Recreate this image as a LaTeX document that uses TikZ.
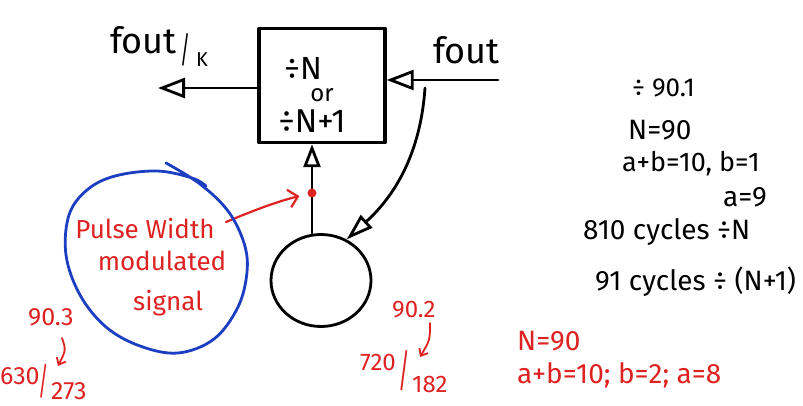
\documentclass[tikz,border=0pt]{standalone}
\usepackage{fontspec}
\usepackage{graphicx}
\setmainfont{Fira Sans}
\usetikzlibrary{arrows.meta,shapes.geometric}
\definecolor{penred}{RGB}{222,34,34}
\definecolor{penblue}{RGB}{28,62,192}
\begin{document}
\begin{tikzpicture}[x=1pt,y=-1pt,
  ink/.style={draw=black, line width=2.8pt, line cap=round, line join=round},
  redink/.style={draw=penred, line width=2.2pt, line cap=round, line join=round},
  blueink/.style={draw=penblue, line width=2.8pt, line cap=round, line join=round},
  txt/.style={inner sep=0pt, font=\fontsize{#1}{#1}\selectfont},
  redtxt/.style={txt=#1, text=penred},
  bigtip/.style={-{Triangle[open,length=27pt,width=20pt]}},
  barb/.style={-{Straight Barb[length=9pt,width=18pt]}},
  smallbarb/.style={-{Straight Barb[length=6pt,width=10pt]}},
]
\useasboundingbox (0,0) rectangle (803,406);

% divider box
\node[ink, line width=3.4pt, minimum width=126pt, minimum height=114pt, inner sep=0pt] (div) at (322,85.5) {};
\node[txt=32, anchor=base] (dN) at (303,80) {÷N};
\node[txt=24, anchor=base] (dor) at (322,102) {or};
\node[txt=33, anchor=base] (dN1) at (312,133) {÷N+1};

% output
\coordinate (outEnd) at (158,88);
\draw[ink, bigtip] (div.west |- outEnd) -- (outEnd);
\node[txt=36, anchor=base west] (foutL) at (110,54) {fout};
\node[txt=24, anchor=base west] (slashL) at (180,63) {\scalebox{0.8}[1.5]{/}};
\node[txt=20, anchor=base west] (kL) at (196,67) {K};

% input
\node[txt=36, anchor=base west] (foutR) at (433,64) {fout};
\coordinate (inStart) at (498,80);
\draw[ink, bigtip] (inStart) -- (inStart -| div.east);

% oscillator
\node[ink, ellipse, minimum width=100pt, minimum height=92pt, inner sep=0pt] (osc) at (321,280.5) {};
\coordinate (pwm) at (312,193);
\draw[ink, -{Triangle[open,length=23pt,width=17pt]}] (pwm |- osc.north) -- (pwm |- div.south);
\fill[penred] (pwm) circle (4.5pt);

% feedback curve
\coordinate (fbStart) at (425,88);
\draw[ink, -{Triangle[open,length=27pt,width=17pt]}] (fbStart) .. controls (420,160) and (390,200) .. (osc.58);

% PWM label
\node[redtxt=26, anchor=base] (pw1) at (145,238) {Pulse Width};
\node[redtxt=26, anchor=base] (pw2) at (162,270) {modulated};
\node[redtxt=26, anchor=base] (pw3) at (168,310) {signal};
\coordinate (pwArrowStart) at (226,222);
\draw[redink, barb, shorten >=13pt] (pwArrowStart) .. controls (250,212) and (275,202) .. (pwm);

% blue loop
\draw[blueink] plot[smooth, tension=0.6] coordinates {(166,163) (200,184) (228,211) (244,243) (247,272) (238,307) (214,339) (178,353) (140,346) (106,327) (80,295) (66,255) (69,215) (87,190) (115,176) (157,171) (192,178) (206,186)};

% red fractions
\node[redtxt=25, anchor=base west] (r903) at (28,325) {90.3};
\coordinate (a3s) at (62,338);
\coordinate (a3e) at (58,366);
\draw[redink, line width=1.8pt, smallbarb] (a3s) .. controls (66,350) .. (a3e);
\node[redtxt=25, anchor=base west] (r630) at (0,384) {630};
\node[redtxt=25, anchor=base west] (s630) at (38,394) {\scalebox{0.8}[1.5]{/}};
\node[redtxt=25, anchor=base west] (r273) at (51,399) {273};

\node[redtxt=24, anchor=base west] (r902) at (392,317) {90.2};
\coordinate (a2s) at (430,323);
\coordinate (a2e) at (420,357);
\draw[redink, line width=1.8pt, smallbarb] (a2s) .. controls (430,340) .. (a2e);
\node[redtxt=24, anchor=base west] (r720) at (360,370) {720};
\node[redtxt=28, anchor=base west] (s720) at (398,386) {\scalebox{0.8}[1.6]{/}};
\node[redtxt=24, anchor=base west] (r182) at (412,392) {182};

% right notes
\node[txt=26, anchor=base west] (t1) at (632,97) {÷ 90.1};
\node[txt=28, anchor=base west] (t2) at (628,140) {N=90};
\node[txt=27, anchor=base west] (t3) at (622,172) {a+b=10, b=1};
\node[txt=28, anchor=base west] (t4) at (723,207) {a=9};
\node[txt=28, anchor=base west] (t5) at (583,240) {810 cycles ÷N};
\node[txt=28, anchor=base west] (t6) at (595,290) {91 cycles ÷ (N+1)};

% red notes
\node[redtxt=28, anchor=base west] (b1) at (517,350) {N=90};
\node[redtxt=28, anchor=base west] (b2) at (517,383) {a+b=10; b=2; a=8};
\end{tikzpicture}
\end{document}
